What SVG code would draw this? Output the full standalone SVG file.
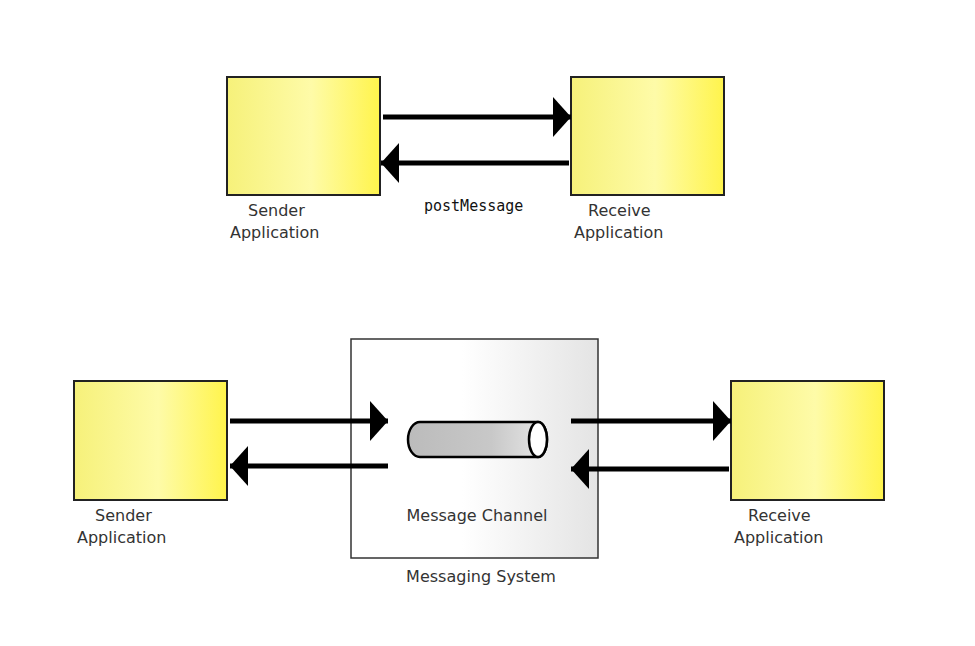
<svg xmlns="http://www.w3.org/2000/svg" width="975" height="646" viewBox="0 0 975 646">
<defs>
<linearGradient id="yg" x1="0" y1="0" x2="1" y2="0">
<stop offset="0" stop-color="#f6f17a"/><stop offset="0.55" stop-color="#fefba8"/><stop offset="1" stop-color="#fff44c"/>
</linearGradient>
<linearGradient id="gg" x1="0" y1="0" x2="1" y2="0">
<stop offset="0" stop-color="#ffffff"/><stop offset="0.45" stop-color="#ffffff"/><stop offset="1" stop-color="#e4e4e4"/>
</linearGradient>
<linearGradient id="cg" x1="0" y1="0" x2="1" y2="0">
<stop offset="0" stop-color="#bbbbbb"/><stop offset="0.6" stop-color="#c8c8c8"/><stop offset="1" stop-color="#e8e8e8"/>
</linearGradient>
<marker id="ah" markerUnits="userSpaceOnUse" markerWidth="20" markerHeight="40" refX="18" refY="20" orient="auto">
<path d="M0,0 L18,20 L0,40 Z" fill="#000"/>
</marker>
</defs>
<style>
.app{fill:url(#yg);stroke:#222;stroke-width:2}
.t{font-family:"DejaVu Sans",Verdana,sans-serif;font-size:16px;fill:#333}
.m{font-family:"DejaVu Sans Mono",monospace;font-size:15px;fill:#111}
.c{stroke:#000;stroke-width:5;fill:none;marker-end:url(#ah)}
</style>
<rect width="975" height="646" fill="#fff"/>
<g id="sender1"><rect class="app" x="227" y="77" width="153" height="118"/><text class="t" x="248" y="216">Sender</text><text class="t" x="230" y="238">Application</text></g>
<g id="receive1"><rect class="app" x="571" y="77" width="153" height="118"/><text class="t" x="588" y="216">Receive</text><text class="t" x="574" y="238">Application</text></g>
<g id="system"><rect x="351" y="339" width="247" height="219" fill="url(#gg)" stroke="#333" stroke-width="1.5"/><text class="t" x="481" y="582" text-anchor="middle">Messaging System</text></g>
<g id="channel">
<path d="M420,422 L538,422 A9,17.5 0 0 1 538,457 L420,457 A12,17.5 0 0 1 420,422 Z" fill="url(#cg)" stroke="#000" stroke-width="2.5"/>
<ellipse cx="538" cy="439.5" rx="9" ry="17.5" fill="#fff" stroke="#000" stroke-width="2.5"/>
<text class="t" x="477" y="521" text-anchor="middle">Message Channel</text>
</g>
<g id="sender2"><rect class="app" x="74" y="381" width="153" height="119"/><text class="t" x="95" y="521">Sender</text><text class="t" x="77" y="543">Application</text></g>
<g id="receive2"><rect class="app" x="731" y="381" width="153" height="119"/><text class="t" x="748" y="521">Receive</text><text class="t" x="734" y="543">Application</text></g>
<g id="connectors">
<line class="c" x1="383" y1="117" x2="571" y2="117"/>
<line class="c" x1="569" y1="163" x2="381" y2="163"/>
<text class="m" x="424" y="211">postMessage</text>
<line class="c" x1="230" y1="421" x2="388" y2="421"/>
<line class="c" x1="388" y1="466" x2="230" y2="466"/>
<line class="c" x1="571" y1="421" x2="731" y2="421"/>
<line class="c" x1="729" y1="469" x2="571" y2="469"/>
</g>
</svg>
